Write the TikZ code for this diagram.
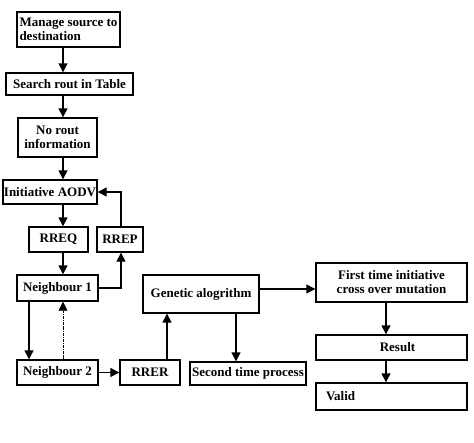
\documentclass[tikz,border=0pt]{standalone}
\usepackage{fontspec}
\setmainfont{Liberation Serif}
\usetikzlibrary{arrows.meta}
\begin{document}
\begin{tikzpicture}[x=1pt,y=-1pt,
  box/.style={draw,line width=1.4pt,inner sep=1pt,font=\bfseries\fontsize{13}{14}\selectfont},
  arr/.style={line width=1.4pt,-{Triangle[length=9pt,width=9pt]}},
  darr/.style={line width=0.8pt,densely dashdotted,-{Triangle[length=9pt,width=9pt]}}]
\useasboundingbox[fill=white] (0,0) rectangle (474,442);
\node[box,minimum width=103pt,minimum height=35pt,align=left] (m) at (68.5,29.5) {Manage source to\\destination};
\node[box,minimum width=127pt,minimum height=22pt] (s) at (69.5,84) {Search rout in Table};
\node[box,minimum width=79pt,minimum height=39pt,align=center] (n) at (57.5,137.5) {No rout\\information};
\node[box,minimum width=94pt,minimum height=24pt] (a) at (50,192) {Initiative AODV};
\node[box,minimum width=59pt,minimum height=25pt] (rreq) at (58.5,239.5) {RREQ};
\node[box,minimum width=46pt,minimum height=25pt] (rrep) at (120,239.5) {RREP};
\node[box,minimum width=81pt,minimum height=26pt] (n1) at (57.5,288) {Neighbour 1};
\node[box,minimum width=81pt,minimum height=25pt] (n2) at (57.5,372.5) {Neighbour 2};
\node[box,minimum width=60pt,minimum height=25pt] (rrer) at (150,372.5) {RRER};
\node[box,minimum width=116pt,minimum height=38pt] (ga) at (201,294) {Genetic alogrithm};
\node[box,minimum width=116pt,minimum height=23pt] (stp) at (248,373.5) {Second time process};
\node[box,minimum width=151pt,minimum height=39pt,align=center] (ft) at (391.5,282.5) {First time initiative\\cross over mutation};
\node[box,minimum width=151pt,minimum height=25pt] (res) at (391.5,347.5) {\hspace*{12pt}Result};
\node[box,minimum width=151pt,minimum height=27pt,text width=143pt,align=left] (val) at (391.5,396.5) {\hspace*{6pt}Valid};
\coordinate (c1) at (121,288);
\coordinate (c2) at (121,192);
\draw[arr] (m.south -| 63,0) -- (s.north -| 63,0);
\draw[arr] (s.south -| 63,0) -- (n.north -| 63,0);
\draw[arr] (n.south -| 63,0) -- (a.north -| 63,0);
\draw[arr] (a.south -| 63,0) -- (rreq.north -| 63,0);
\draw[arr] (rreq.south -| 63,0) -- (n1.north -| 63,0);
\draw[arr] (n1.east) -- (c1) -- (rrep.south -| c1);
\draw[arr] (rrep.north -| c2) -- (c2) -- (a.east);
\draw[arr] (n1.south -| 29,0) -- (n2.north -| 29,0);
\draw[darr] (n2.north -| 63,0) -- (n1.south -| 63,0);
\draw[arr] (n2.east) -- (rrer.west);
\draw[arr] (rrer.north -| 167,0) -- (ga.south -| 167,0);
\draw[arr] (ga.south -| 236,0) -- (stp.north -| 236,0);
\draw[arr] (ga.east |- 0,289) -- (ft.west |- 0,289);
\draw[arr] (ft.south -| 386,0) -- (res.north -| 386,0);
\draw[arr] (res.south -| 386,0) -- (val.north -| 386,0);
\end{tikzpicture}
\end{document}
